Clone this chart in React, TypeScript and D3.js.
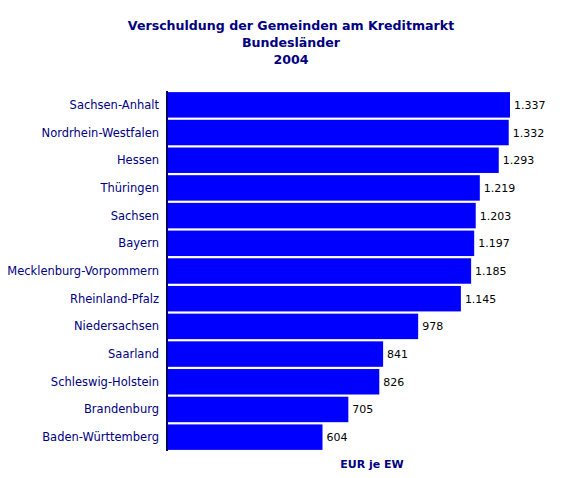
import { useRef, useEffect } from "react";
import * as d3 from "d3";

const states = [
  "Sachsen-Anhalt",
  "Nordrhein-Westfalen",
  "Hessen",
  "Thüringen",
  "Sachsen",
  "Bayern",
  "Mecklenburg-Vorpommern",
  "Rheinland-Pfalz",
  "Niedersachsen",
  "Saarland",
  "Schleswig-Holstein",
  "Brandenburg",
  "Baden-Württemberg",
];
const debt = [1337, 1332, 1293, 1219, 1203, 1197, 1185, 1145, 978, 841, 826, 705, 604];
const titleLines = ["Verschuldung der Gemeinden am Kreditmarkt", "Bundesländer", "2004"];
const unitLabel = "EUR je EW";

const fmt = (v: number) => d3.format(",")(v).replace(/,/g, ".");

export default function App() {
  const svgRef = useRef<SVGSVGElement>(null);

  useEffect(() => {
    if (!svgRef.current) return;
    const svg = d3.select(svgRef.current);
    svg.selectAll("*").remove();

    const width = 583;
    const height = 478;
    const font = "Verdana, 'DejaVu Sans', sans-serif";
    const navy = "#000080";

    svg.attr("width", width).attr("height", height);

    const x = d3.scaleLinear().domain([0, 1337]).range([168, 510]);
    const y = d3
      .scaleBand<string>()
      .domain(states)
      .range([91, 451])
      .paddingInner(0.08)
      .paddingOuter(0.04);

    // title
    svg
      .selectAll(".title")
      .data(titleLines)
      .enter()
      .append("text")
      .attr("x", 291)
      .attr("y", (_d, i) => 30 + i * 17)
      .attr("text-anchor", "middle")
      .attr("font-family", font)
      .attr("font-size", "12.6px")
      .attr("font-weight", "bold")
      .attr("fill", navy)
      .text((d) => d);

    const rows = states.map((s, i) => ({ name: s, value: debt[i] }));

    svg
      .selectAll(".bar")
      .data(rows)
      .enter()
      .append("rect")
      .attr("x", x(0))
      .attr("y", (d) => y(d.name)!)
      .attr("width", (d) => x(d.value) - x(0))
      .attr("height", y.bandwidth())
      .attr("fill", "#0000FF");

    // category labels
    svg
      .selectAll(".lbl")
      .data(rows)
      .enter()
      .append("text")
      .attr("x", 159)
      .attr("y", (d) => y(d.name)! + y.bandwidth() / 2 + 4)
      .attr("text-anchor", "end")
      .attr("font-family", font)
      .attr("font-size", "11.5px")
      .attr("fill", navy)
      .text((d) => d.name);

    // value labels
    svg
      .selectAll(".val")
      .data(rows)
      .enter()
      .append("text")
      .attr("x", (d) => x(d.value) + 4)
      .attr("y", (d) => y(d.name)! + y.bandwidth() / 2 + 4)
      .attr("font-family", font)
      .attr("font-size", "11px")
      .attr("fill", "#000000")
      .text((d) => fmt(d.value));

    // axis line
    svg
      .append("line")
      .attr("x1", 167)
      .attr("x2", 167)
      .attr("y1", 91)
      .attr("y2", 451)
      .attr("stroke", "#000066")
      .attr("stroke-width", 2);

    svg
      .append("text")
      .attr("x", 372)
      .attr("y", 468)
      .attr("text-anchor", "middle")
      .attr("font-family", font)
      .attr("font-size", "11px")
      .attr("font-weight", "bold")
      .attr("fill", navy)
      .text(unitLabel);
  }, []);

  return (
    <svg
      ref={svgRef}
      style={{ position: "absolute", left: 0, top: 0, background: "#fff" }}
    />
  );
}
